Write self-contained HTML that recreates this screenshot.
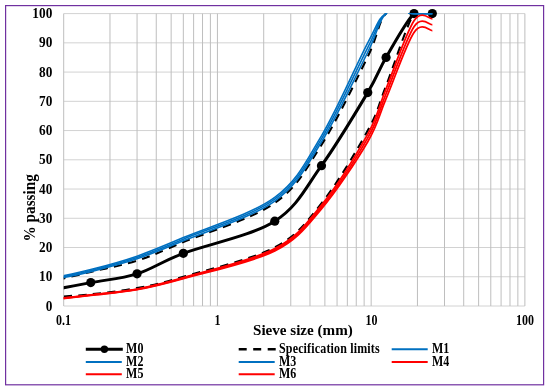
<!DOCTYPE html>
<html><head><meta charset="utf-8"><style>
html,body{margin:0;padding:0;background:#fff;width:550px;height:392px;overflow:hidden}
svg{display:block}
.t{font-family:"Liberation Serif",serif;font-weight:bold;font-size:13.3px;fill:#000}
.xt{font-size:12px}
.ti{font-family:"Liberation Serif",serif;font-weight:bold;font-size:15.1px;fill:#000}
.yt{font-family:"Liberation Serif",serif;font-weight:bold;font-size:15.3px;fill:#000}
.lg{font-family:"Liberation Serif",serif;font-weight:bold;font-size:12px;fill:#000}
</style></head><body>
<svg width="550" height="392" viewBox="0 0 550 392">
<defs><clipPath id="pc"><rect x="63.7" y="13" width="461.19" height="293"/></clipPath></defs>
<rect x="5.6" y="5.6" width="538" height="379.2" fill="none" stroke="#7030A0" stroke-width="1.2"/>
<path d="M63.7 306H524.89M63.7 276.76H524.89M63.7 247.52H524.89M63.7 218.28H524.89M63.7 189.04H524.89M63.7 159.8H524.89M63.7 130.56H524.89M63.7 101.32H524.89M63.7 72.08H524.89M63.7 42.84H524.89M63.7 13.6H524.89" stroke="#D2D2D2" stroke-width="1" fill="none"/>
<path d="M63.7 13.6V306M109.98 13.6V306M137.05 13.6V306M156.25 13.6V306M171.15 13.6V306M183.33 13.6V306M193.62 13.6V306M202.53 13.6V306M210.4 13.6V306M217.43 13.6V306M263.71 13.6V306M290.78 13.6V306M309.98 13.6V306M324.88 13.6V306M337.06 13.6V306M347.35 13.6V306M356.26 13.6V306M364.13 13.6V306M371.16 13.6V306M417.44 13.6V306M444.51 13.6V306M463.71 13.6V306M478.61 13.6V306M490.79 13.6V306M501.08 13.6V306M509.99 13.6V306M517.86 13.6V306M524.89 13.6V306" stroke="#BEBEBE" stroke-width="1" fill="none"/>
<g clip-path="url(#pc)" fill="none" stroke-linejoin="round">
<path d="M44.49 291.38C52.21 289.92 75.34 285.53 90.77 282.61C106.2 279.68 121.62 278.71 137.05 273.84C152.47 268.96 160.37 262.14 183.33 253.37C206.28 244.6 251.74 235.82 274.76 221.2C297.78 206.58 305.96 187.09 321.46 165.65C336.95 144.21 356.97 110.58 367.74 92.55C378.5 74.52 378.35 70.62 386.06 57.46C393.77 44.3 406.3 20.91 414.01 13.6C414.22 13.4 414.44 13.21 414.65 13.03M430.24 13C431.07 13.36 431.78 13.6 432.34 13.6" stroke="#000" stroke-width="3"/>
</g>
<circle cx="90.77" cy="282.61" r="4.6" fill="#000"/>
<circle cx="137.05" cy="273.84" r="4.6" fill="#000"/>
<circle cx="183.33" cy="253.37" r="4.6" fill="#000"/>
<circle cx="274.76" cy="221.2" r="4.6" fill="#000"/>
<circle cx="321.46" cy="165.65" r="4.6" fill="#000"/>
<circle cx="367.74" cy="92.55" r="4.6" fill="#000"/>
<circle cx="386.06" cy="57.46" r="4.6" fill="#000"/>
<circle cx="414.01" cy="13.6" r="4.6" fill="#000"/>
<circle cx="432.34" cy="13.6" r="4.6" fill="#000"/>
<g clip-path="url(#pc)" fill="none" stroke-linejoin="round">
<path d="M44.49 283.13C52.21 281.26 75.34 275.65 90.77 271.91C106.2 268.16 121.62 265.61 137.05 260.65C152.47 255.68 160.37 251.73 183.33 242.11C206.28 232.5 251.74 219.17 274.76 202.96C297.78 186.75 305.96 169.24 321.46 144.86C336.95 120.48 356.97 78.55 367.74 56.67C378.5 34.79 378.35 20.78 386.06 13.6C386.27 13.4 386.49 13.22 386.71 13.04M410.48 13.01C411.95 13.36 413.16 13.6 414.01 13.6" stroke="#000" stroke-width="2.05" stroke-dasharray="8.3 6.23" stroke-dashoffset="1.37"/>
<path d="M44.49 297.61C52.21 297.06 75.34 295.9 90.77 294.3C106.2 292.71 121.62 290.97 137.05 288.05C152.47 285.12 160.37 283.55 183.33 276.76C206.28 269.97 251.74 259.53 274.76 247.32C297.78 235.1 305.96 222.91 321.46 203.46C336.95 184 356.97 150.17 367.74 130.56C378.5 110.95 378.35 105.29 386.06 85.79C393.77 66.3 406.3 25.63 414.01 13.6C414.13 13.42 414.24 13.24 414.36 13.07M430.83 13.01C431.41 13.37 431.92 13.6 432.34 13.6" stroke="#000" stroke-width="2.05" stroke-dasharray="8.3 6.23" stroke-dashoffset="-4.82"/>
<path d="M44.49 279.86C52.21 278.14 75.34 273.52 90.77 269.57C106.2 265.61 121.62 261.48 137.05 256.15C152.47 250.81 160.37 247.39 183.33 237.58C206.28 227.77 251.74 214.24 274.76 197.29C297.78 180.33 305.96 161.58 321.46 135.85C336.95 110.12 356.97 63.27 367.74 42.9C378.5 22.52 378.35 18.48 386.06 13.6C386.39 13.39 386.72 13.2 387.07 13.03M408.04 13C410.21 13.34 412.24 13.6 414.01 13.6C421.73 13.6 429.28 13.6 432.34 13.6" stroke="#0070C0" stroke-width="1.6"/>
<path d="M44.49 280.74C52.21 279.05 75.34 274.47 90.77 270.59C106.2 266.71 121.62 262.7 137.05 257.46C152.47 252.23 160.37 248.9 183.33 239.19C206.28 229.47 251.74 215.9 274.76 199.19C297.78 182.48 305.96 164.19 321.46 138.92C336.95 113.65 356.97 68.46 367.74 47.58C378.5 26.69 378.35 19.26 386.06 13.6C386.35 13.39 386.64 13.19 386.95 13.01M408.61 13.01C410.56 13.35 412.39 13.6 414.01 13.6C421.73 13.6 429.28 13.6 432.34 13.6" stroke="#0070C0" stroke-width="1.6"/>
<path d="M44.49 281.61C52.21 279.95 75.34 275.42 90.77 271.61C106.2 267.81 121.62 263.91 137.05 258.78C152.47 253.64 160.37 250.41 183.33 240.79C206.28 231.18 251.74 217.55 274.76 201.09C297.78 184.62 305.96 166.8 321.46 141.99C336.95 117.19 356.97 73.65 367.74 52.26C378.5 30.86 378.35 20.04 386.06 13.6C386.31 13.39 386.56 13.19 386.82 13.01M409.02 13.01C410.82 13.36 412.51 13.6 414.01 13.6C421.73 13.6 429.28 13.6 432.34 13.6" stroke="#0070C0" stroke-width="1.6"/>
<path d="M44.49 299.92C52.21 299.07 75.34 296.67 90.77 294.86C106.2 293.05 121.62 291.93 137.05 289.07C152.47 286.21 160.37 284.43 183.33 277.7C206.28 270.96 251.74 260.76 274.76 248.66C297.78 236.56 305.96 224.19 321.46 205.09C336.95 186 356.97 153.48 367.74 134.1C378.5 114.71 378.35 107.66 386.06 88.78C393.77 69.89 406.3 32.45 414.01 20.79C421.73 9.14 429.28 19.18 432.34 18.86" stroke="#FF0000" stroke-width="1.8"/>
<path d="M44.49 300.21C52.21 299.37 75.34 296.96 90.77 295.15C106.2 293.34 121.62 292.2 137.05 289.36C152.47 286.53 160.37 284.72 183.33 278.13C206.28 271.55 251.74 261.69 274.76 249.83C297.78 237.97 305.96 225.65 321.46 206.99C336.95 188.34 356.97 156.77 367.74 137.9C378.5 119.02 378.35 112.29 386.06 93.75C393.77 75.2 406.3 38.15 414.01 26.64C421.73 15.14 429.28 25.03 432.34 24.71" stroke="#FF0000" stroke-width="1.8"/>
<path d="M44.49 300.5C52.21 299.66 75.34 297.25 90.77 295.44C106.2 293.64 121.62 292.47 137.05 289.65C152.47 286.84 160.37 285.02 183.33 278.57C206.28 272.13 251.74 262.61 274.76 251C297.78 239.39 305.96 227.11 321.46 208.89C336.95 190.68 356.97 160.06 367.74 141.7C378.5 123.34 378.35 116.92 386.06 98.72C393.77 80.52 406.3 43.85 414.01 32.49C421.73 21.13 429.28 30.88 432.34 30.56" stroke="#FF0000" stroke-width="1.8"/>
</g>
<text transform="translate(52.3 310.5) scale(1 1.12)" text-anchor="end" class="t">0</text>
<text transform="translate(52.3 281.26) scale(1 1.12)" text-anchor="end" class="t">10</text>
<text transform="translate(52.3 252.02) scale(1 1.12)" text-anchor="end" class="t">20</text>
<text transform="translate(52.3 222.78) scale(1 1.12)" text-anchor="end" class="t">30</text>
<text transform="translate(52.3 193.54) scale(1 1.12)" text-anchor="end" class="t">40</text>
<text transform="translate(52.3 164.3) scale(1 1.12)" text-anchor="end" class="t">50</text>
<text transform="translate(52.3 135.06) scale(1 1.12)" text-anchor="end" class="t">60</text>
<text transform="translate(52.3 105.82) scale(1 1.12)" text-anchor="end" class="t">70</text>
<text transform="translate(52.3 76.58) scale(1 1.12)" text-anchor="end" class="t">80</text>
<text transform="translate(52.3 47.34) scale(1 1.12)" text-anchor="end" class="t">90</text>
<text transform="translate(52.3 18.1) scale(1 1.12)" text-anchor="end" class="t">100</text>
<text transform="translate(63.4 324.9) scale(1 1.2)" text-anchor="middle" class="t xt">0.1</text>
<text transform="translate(217.55 324.9) scale(1 1.2)" text-anchor="middle" class="t xt">1</text>
<text transform="translate(371.5 324.9) scale(1 1.2)" text-anchor="middle" class="t xt">10</text>
<text transform="translate(525.1 324.9) scale(1 1.2)" text-anchor="middle" class="t xt">100</text>
<text x="253" y="335.2" class="ti">Sieve size (mm)</text>
<text transform="translate(34.5 241.6) rotate(-90) scale(1 1.04)" class="yt">% passing</text>
<path d="M85.8 349.3H122.8" stroke="#000" stroke-width="3"/>
<circle cx="104.4" cy="349.3" r="3.7" fill="#000"/>
<text transform="translate(126.1 353.4) scale(1 1.14)" class="lg">M0</text>
<path d="M238.7 349.3H275.7" stroke="#000" stroke-width="2.6" stroke-dasharray="8 6.5"/>
<text transform="translate(279 353.4) scale(1 1.14)" class="lg" letter-spacing="0.16">Specification limits</text>
<path d="M391.7 349.3H427.7" stroke="#0070C0" stroke-width="2"/>
<text transform="translate(432 353.4) scale(1 1.14)" class="lg">M1</text>
<path d="M85.8 361.9H121.8" stroke="#0070C0" stroke-width="2"/>
<text transform="translate(126.1 366) scale(1 1.14)" class="lg">M2</text>
<path d="M238.7 361.9H274.7" stroke="#0070C0" stroke-width="2"/>
<text transform="translate(279 366) scale(1 1.14)" class="lg">M3</text>
<path d="M391.7 361.9H427.7" stroke="#FF0000" stroke-width="2"/>
<text transform="translate(432 366) scale(1 1.14)" class="lg">M4</text>
<path d="M85.8 374.3H121.8" stroke="#FF0000" stroke-width="2"/>
<text transform="translate(126.1 378.4) scale(1 1.14)" class="lg">M5</text>
<path d="M238.7 374.3H274.7" stroke="#FF0000" stroke-width="2"/>
<text transform="translate(279 378.4) scale(1 1.14)" class="lg">M6</text>
</svg>
</body></html>
